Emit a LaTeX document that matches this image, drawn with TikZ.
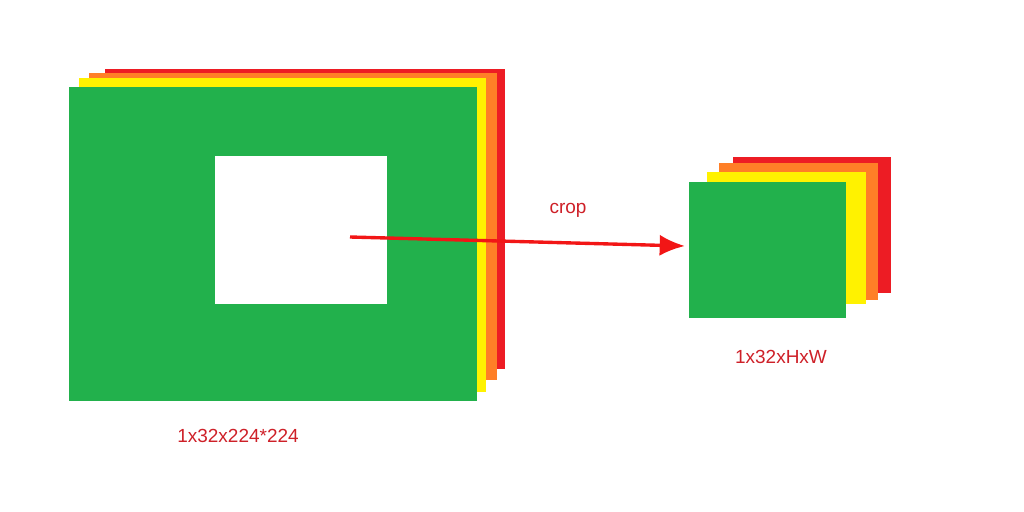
\documentclass[tikz,border=0pt]{standalone}
\usepackage{fontspec}
\setmainfont{Liberation Sans}
\usetikzlibrary{arrows.meta}
\definecolor{mapgreen}{RGB}{34,177,76}
\definecolor{mapyellow}{RGB}{255,242,0}
\definecolor{maporange}{RGB}{255,127,39}
\definecolor{mapred}{RGB}{237,28,36}
\definecolor{arrowred}{RGB}{242,22,22}
\definecolor{labelred}{RGB}{206,32,40}
\tikzset{
    label text/.style={text=labelred,font=\fontsize{13.5}{16}\selectfont,inner sep=0pt}
}
\begin{document}
\begin{tikzpicture}[x=0.025cm,y=-0.025cm]
    \useasboundingbox (0,0) rectangle (1024,512);
    % big stack
    \fill[mapred] (105,69) rectangle (505,369);
    \fill[maporange] (89,73) rectangle (497,380);
    \fill[mapyellow] (79,78) rectangle (486,392);
    \fill[mapgreen] (69,87) rectangle (477,401);
    \fill[white] (215,156) rectangle (387,304);
    \node[label text] (big) at (238,436) {1x32x224*224};

    % small stack
    \fill[mapred] (733,157) rectangle (891,293);
    \fill[maporange] (719,163) rectangle (878,300);
    \fill[mapyellow] (707,172) rectangle (866,304);
    \fill[mapgreen] (689,182) rectangle (846,318);
    \node[label text] (small) at (781,357) {1x32xHxW};

    \coordinate (src) at (350,237);
    \coordinate (dst) at (685,246);
    \draw[arrowred,line width=2.4pt,-{Latex[length=18,width=15]}] (src) -- (dst);
    \node[label text] (crop) at (568,210) {crop};
\end{tikzpicture}
\end{document}
